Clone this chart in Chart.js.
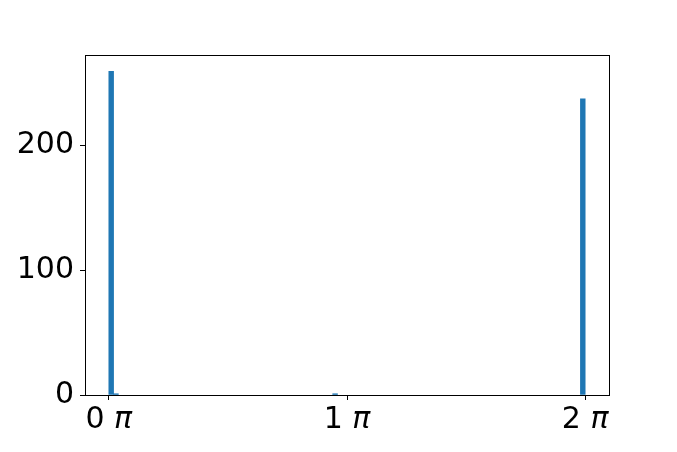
<!DOCTYPE html>
<html>
<head>
<meta charset="utf-8">
<script src="https://cdn.jsdelivr.net/npm/chart.js@4"></script>
<style>
  html, body { margin: 0; padding: 0; background: #fff; }
  #wrap { width: 677px; height: 452px; position: relative; }
</style>
</head>
<body>
<div id="wrap"><canvas id="myChart"></canvas></div>
<script>
// 100 histogram bins spanning 0 .. 2 pi (x is in units of pi)
var binWidth = 0.02;
// counts per bin
var binCounts = [
  259, 1, 0, 0, 0, 0, 0, 0, 0, 0, 0, 0, 0, 0, 0, 0, 0, 0, 0, 0,
  0, 0, 0, 0, 0, 0, 0, 0, 0, 0, 0, 0, 0, 0, 0, 0, 0, 0, 0, 0,
  0, 0, 0, 0, 0, 0, 0, 1, 0, 0, 0, 0, 0, 0, 0, 0, 0, 0, 0, 0,
  0, 0, 0, 0, 0, 0, 0, 0, 0, 0, 0, 0, 0, 0, 0, 0, 0, 0, 0, 0,
  0, 0, 0, 0, 0, 0, 0, 0, 0, 0, 0, 0, 0, 0, 0, 0, 0, 0, 0, 237
];
var xTicks = [0, 1, 2];
var yTicks = [0, 100, 200];

// empty bins keep their slot (for the bar width) but are not drawn
var points = binCounts.map(function (c, i) {
  return { x: (i + 0.5) * binWidth, y: c > 0 ? c : null };
});

var fontFamily = "'DejaVu Sans', sans-serif";
var fontSize = 30;

// draws the box around the plot and the "n pi" labels (pi in italic like mathtext)
var frameAndLabels = {
  id: 'frameAndLabels',
  afterDraw: function (chart) {
    var ctx = chart.ctx, a = chart.chartArea;
    ctx.save();
    ctx.strokeStyle = '#000';
    ctx.lineWidth = 1;
    ctx.strokeRect(Math.round(a.left) + 0.5, Math.round(a.top) + 0.5,
      Math.round(a.right - a.left), Math.round(a.bottom - a.top));

    var xs = chart.scales.x;
    ctx.fillStyle = '#000';
    ctx.textBaseline = 'alphabetic';
    ctx.textAlign = 'left';
    xTicks.forEach(function (v) {
      var num = v + ' ';
      ctx.font = fontSize + 'px ' + fontFamily;
      var w1 = ctx.measureText(num).width;
      ctx.font = 'oblique ' + fontSize + 'px ' + fontFamily;
      var w2 = ctx.measureText('\u03c0').width;
      var x0 = xs.getPixelForValue(v) - (w1 + w2) / 2;
      var y = a.bottom + 33;
      ctx.font = fontSize + 'px ' + fontFamily;
      ctx.fillText(num, x0, y);
      ctx.font = 'oblique ' + fontSize + 'px ' + fontFamily;
      ctx.fillText('\u03c0', x0 + w1, y);
    });
    ctx.restore();
  }
};

var ctx = document.getElementById('myChart');
var myChart = new Chart(ctx, {
  type: 'bar',
  data: {
    datasets: [{
      data: points,
      backgroundColor: '#1f77b4',
      borderWidth: 0,
      barPercentage: 1,
      categoryPercentage: 1
    }]
  },
  options: {
    responsive: true,
    maintainAspectRatio: false,
    animation: false,
    layout: { padding: { top: 55, right: 68, left: 0, bottom: 0 } },
    plugins: { legend: { display: false }, tooltip: { enabled: false } },
    scales: {
      x: {
        type: 'linear',
        min: -0.1,
        max: 2.1,
        offset: false,
        afterBuildTicks: function (s) { s.ticks = xTicks.map(function (v) { return { value: v }; }); },
        afterFit: function (s) { s.height = 57; },
        grid: { offset: false, drawOnChartArea: false, drawTicks: true, tickLength: 5, tickColor: '#000', tickWidth: 1 },
        border: { display: false },
        ticks: { display: false }
      },
      y: {
        min: 0,
        max: 272,
        afterBuildTicks: function (s) { s.ticks = yTicks.map(function (v) { return { value: v }; }); },
        afterFit: function (s) { s.width = 85; },
        grid: { drawOnChartArea: false, drawTicks: true, tickLength: 5, tickColor: '#000', tickWidth: 1 },
        border: { display: false },
        ticks: {
          color: '#000',
          padding: 6,
          font: { family: fontFamily, size: fontSize }
        }
      }
    }
  },
  plugins: [frameAndLabels]
});
</script>
</body>
</html>
